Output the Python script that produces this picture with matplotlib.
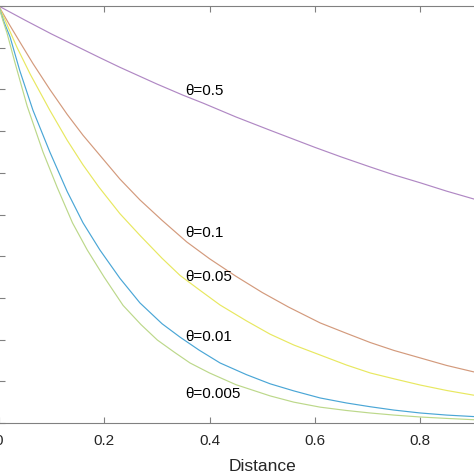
import matplotlib
matplotlib.use("Agg")
import matplotlib.pyplot as plt

plt.rcParams['font.family'] = ['Liberation Sans', 'DejaVu Sans']

# values
x_05 = [0, 0.05, 0.1, 0.15, 0.192, 0.23, 0.3, 0.35, 0.388, 0.45, 0.515, 0.6, 0.65, 0.705, 0.75, 0.8, 0.85, 0.902, 0.95, 1.0]
y_05 = [1.0, 0.966, 0.933, 0.902, 0.876, 0.853, 0.813, 0.786, 0.767, 0.734, 0.702, 0.661, 0.638, 0.614, 0.595, 0.576, 0.556, 0.537, 0.519, 0.50]

x_01 = [0, 0.01, 0.02, 0.04, 0.065, 0.097, 0.13, 0.16, 0.192, 0.23, 0.268, 0.31, 0.357,
        0.40, 0.45, 0.50, 0.55, 0.61, 0.66, 0.705, 0.75, 0.80, 0.85, 0.90, 0.95, 1.0]
y_01 = [1.0, 0.978, 0.956, 0.914, 0.862, 0.800, 0.740, 0.690, 0.642, 0.585, 0.535, 0.486, 0.434,
        0.394, 0.352, 0.313, 0.278, 0.240, 0.215, 0.193, 0.174, 0.156, 0.138, 0.123, 0.110, 0.097]

x_005 = [0, 0.01, 0.02, 0.035, 0.06, 0.097, 0.13, 0.16, 0.19, 0.23, 0.268, 0.31, 0.344, 0.38,
         0.42, 0.47, 0.515, 0.56, 0.61, 0.66, 0.705, 0.75, 0.80, 0.85, 0.90, 0.95, 1.0]
y_005 = [1.0, 0.972, 0.943, 0.900, 0.836, 0.750, 0.678, 0.619, 0.566, 0.502, 0.450, 0.395, 0.354, 0.320,
         0.283, 0.245, 0.213, 0.187, 0.163, 0.139, 0.120, 0.106, 0.091, 0.078, 0.067, 0.058, 0.050]

x_001 = [0, 0.01, 0.0215, 0.04, 0.065, 0.097, 0.13, 0.16, 0.192, 0.23, 0.268, 0.31, 0.344, 0.38,
         0.42, 0.47, 0.515, 0.56, 0.61, 0.66, 0.705, 0.75, 0.80, 0.85, 0.90, 0.95, 1.0]
y_001 = [1.0, 0.962, 0.926, 0.845, 0.750, 0.650, 0.555, 0.480, 0.415, 0.347, 0.288, 0.238, 0.206, 0.175,
         0.144, 0.116, 0.094, 0.077, 0.060, 0.048, 0.039, 0.031, 0.024, 0.019, 0.0155, 0.012, 0.010]

x_0005 = [0, 0.008, 0.0158, 0.03, 0.054, 0.084, 0.111, 0.14, 0.168, 0.2, 0.236, 0.27, 0.301, 0.333,
          0.363, 0.40, 0.45, 0.515, 0.56, 0.61, 0.66, 0.705, 0.75, 0.80, 0.85, 0.90, 0.95, 1.0]
y_0005 = [1.0, 0.965, 0.935, 0.868, 0.760, 0.650, 0.565, 0.480, 0.415, 0.350, 0.282, 0.236, 0.199, 0.170,
          0.144, 0.120, 0.092, 0.065, 0.050, 0.038, 0.030, 0.024, 0.019, 0.0144, 0.011, 0.008, 0.006, 0.005]

labels = ['θ=0.5', 'θ=0.1', 'θ=0.05', 'θ=0.01', 'θ=0.005']
label_y = [0.796, 0.456, 0.350, 0.206, 0.070]
label_x = 0.354

series = [(x_05, y_05), (x_01, y_01), (x_005, y_005), (x_001, y_001), (x_0005, y_0005)]
colors = ['#b088c4', '#d39a7c', '#e8e860', '#4aa6d6', '#bcd88a']

fig = plt.figure(figsize=(4.74, 4.74), dpi=100)
# axes runs past the right edge, like the cropped original
ax = fig.add_axes([-1.3 / 474, 51 / 474, 527 / 474, 417 / 474])

for (xs, ys), c in zip(series, colors):
    ax.plot(xs, ys, color=c, linewidth=0.85)

for lab, ly in zip(labels, label_y):
    ax.text(label_x, ly, lab, fontsize=11, ha='left', va='center', color='black')

ax.set_xlim(0, 1)
ax.set_ylim(0, 1)
ax.set_xticks([0, 0.2, 0.4, 0.6, 0.8, 1.0])
ax.set_xticklabels(['0', '0.2', '0.4', '0.6', '0.8', ''])
ax.set_yticks([i / 10 for i in range(11)])
ax.set_yticklabels([])
ax.tick_params(direction='in', length=4, width=0.8, color='#808080',
               labelsize=11, labelcolor='#262626', top=True, right=True, pad=8)
for s in ax.spines.values():
    s.set_color('#808080')
    s.set_linewidth(0.8)
ax.set_xlabel('Distance', fontsize=12.5, color='#262626', labelpad=8)

fig.savefig('out.png', dpi=100)
